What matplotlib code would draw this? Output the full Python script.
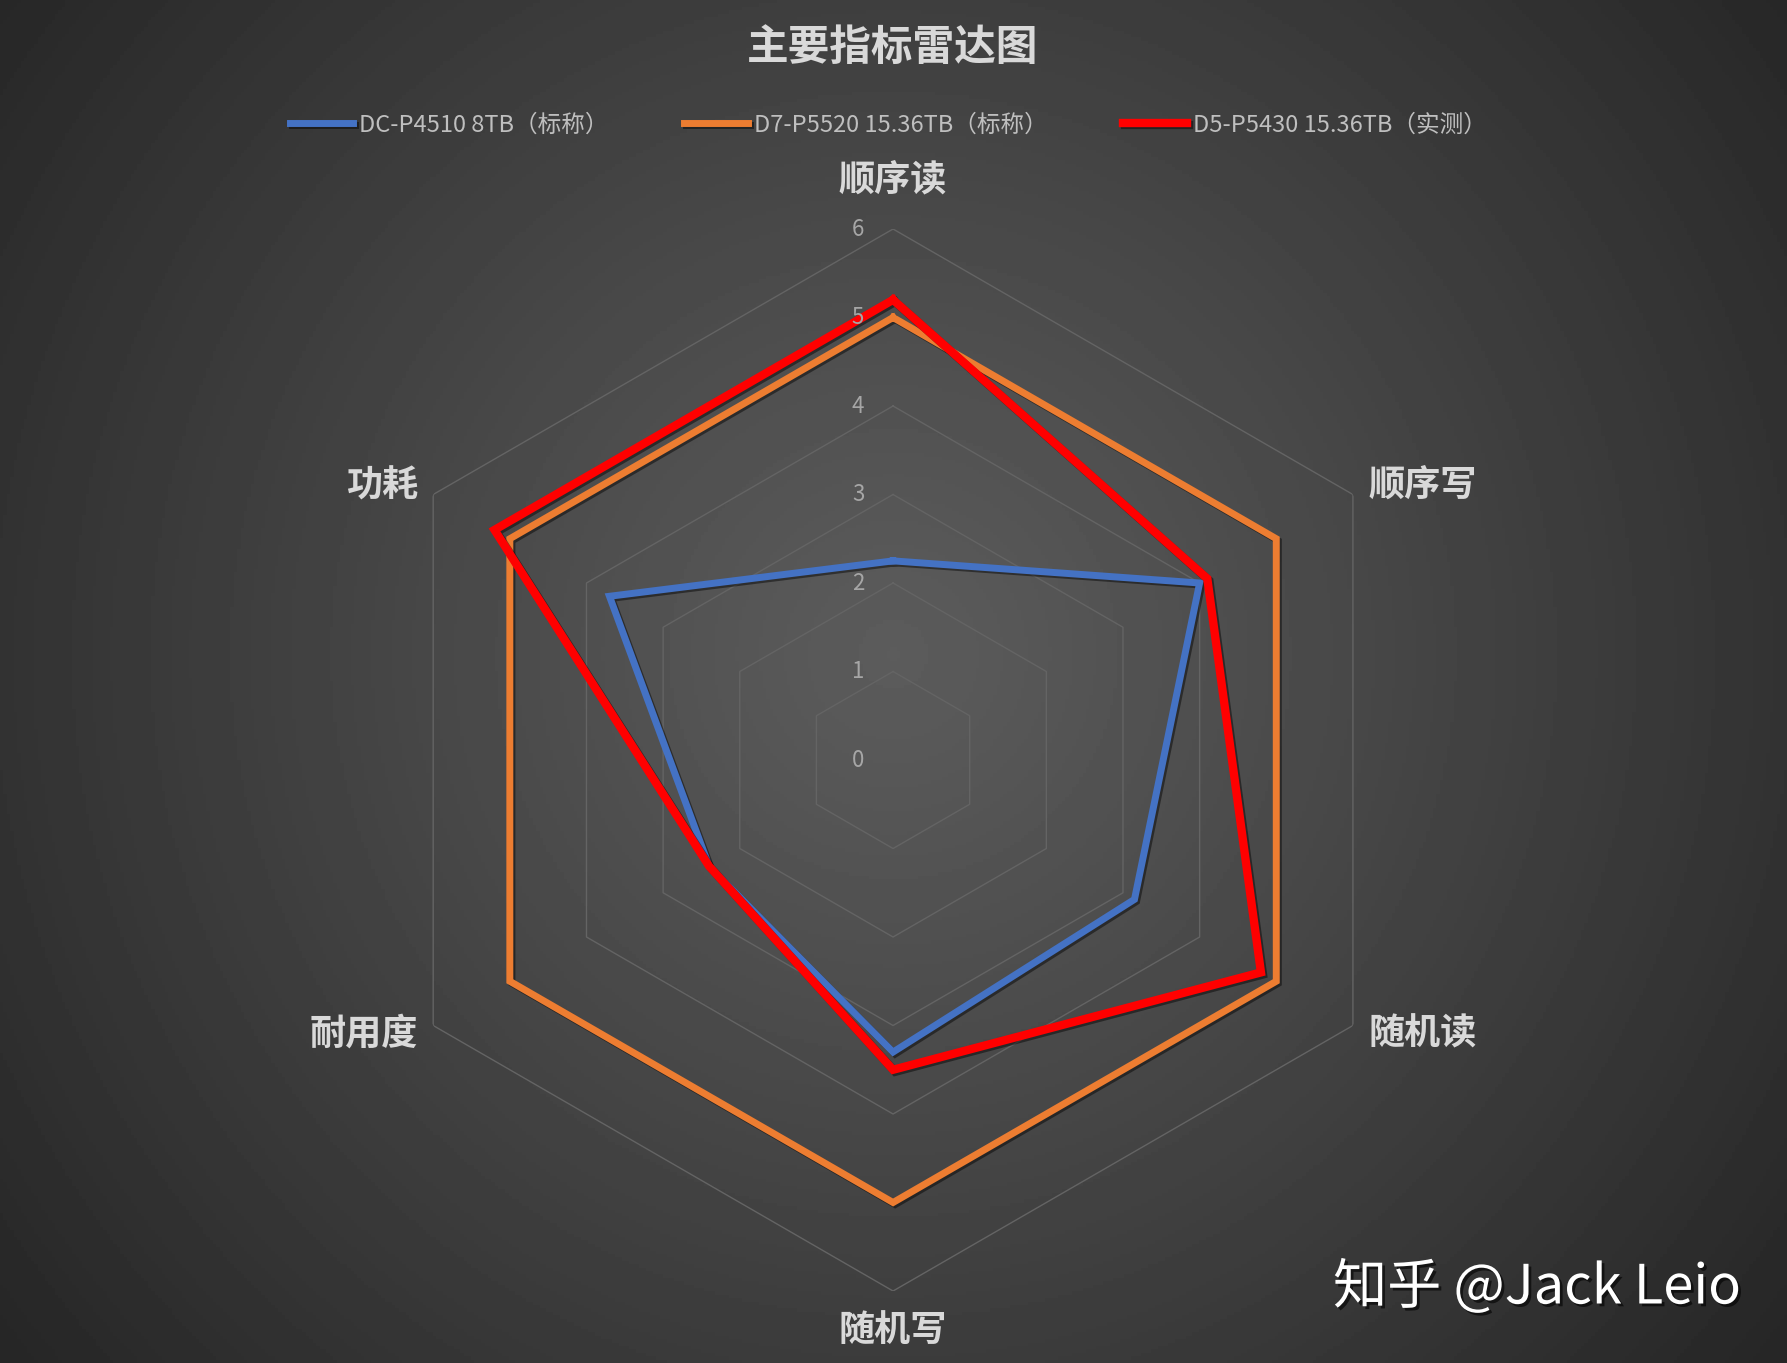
import numpy as np
import matplotlib.pyplot as plt
import matplotlib.patheffects as pe
from matplotlib.transforms import offset_copy

plt.rcParams['font.family'] = ['Noto Sans CJK SC', 'DejaVu Sans']

# 数据
categories = ['顺序读', '顺序写', '随机读', '随机写', '耐用度', '功耗']
series_names = ['DC-P4510 8TB（标称）', 'D7-P5520 15.36TB（标称）', 'D5-P5430 15.36TB（实测）']
p4510 = [2.25, 4.0, 3.15, 3.3, 2.4, 3.7]
p5520 = [5.0, 5.0, 5.0, 5.0, 5.0, 5.0]
p5430 = [5.2, 4.1, 4.8, 3.5, 2.4, 5.2]
r_ticks = [0, 1, 2, 3, 4, 5, 6]

colors = ['#4472C4', '#ED7D31', '#FF0000']
widths = [5, 5, 6]

fig = plt.figure(figsize=(17.87, 13.63), dpi=100)

# 背景径向渐变
bg = fig.add_axes([0, 0, 1, 1], zorder=-10)
yy, xx = np.mgrid[0:1:400j, 0:1:520j]
d = np.sqrt(((xx - 0.5) * 1.787) ** 2 + ((yy - 0.48) * 1.363) ** 2) / 1.124
shade = 0.36 - (0.36 - 0.15) * np.clip(d, 0, 1) ** 1.1
bg.imshow(shade, cmap='gray', vmin=0, vmax=1, extent=[0, 1, 0, 1], aspect='auto')
bg.set_axis_off()

# 雷达图
ax = fig.add_axes([0.2026, 0.0528, 0.5943, 0.7792], projection='polar')
ax.set_facecolor('none')
ax.set_theta_zero_location('N')
ax.set_theta_direction(-1)
ax.set_ylim(0, 6)
ax.set_axis_off()

angles = np.linspace(0, 2 * np.pi, len(categories), endpoint=False)
closed = np.append(angles, angles[0])

# 网格六边形
for lev in r_ticks[1:]:
    ax.plot(closed, [lev] * len(closed), color='#646464', lw=1.0, zorder=1)

# 数据线
for vals, c, w, name in zip([p4510, p5520, p5430], colors, widths, series_names):
    ax.plot(closed, vals + [vals[0]], color=c, lw=w, label=name,
            solid_joinstyle='miter', clip_on=False, zorder=3,
            path_effects=[pe.SimpleLineShadow(offset=(1.5, -1.5), shadow_color='black', alpha=0.45),
                          pe.Normal()])

# 刻度标签
trans = offset_copy(ax.transData, fig=fig, x=-35, y=0, units='dots')
for r in r_ticks:
    ax.text(0, r, str(r), transform=trans, ha='center', va='center',
            fontsize=16, color='#a6a6a6', zorder=4)

# 类别标签
for ang, cat in zip(angles, categories):
    deg = np.degrees(ang)
    if deg == 0:
        ax.text(ang, 6.55, cat, ha='center', va='center', fontsize=26,
                weight='bold', color='#d9d9d9')
    elif deg == 180:
        ax.text(ang, 6.45, cat, ha='center', va='center', fontsize=26,
                weight='bold', color='#d9d9d9')
    else:
        ha = 'left' if deg < 180 else 'right'
        ax.text(ang, 6.2, cat, ha=ha, va='center', fontsize=26,
                weight='bold', color='#d9d9d9')

# 标题和图例
fig.text(0.4994, 1 - 48 / 1363, '主要指标雷达图', ha='center', va='center',
         fontsize=30, weight='bold', color='#d9d9d9')
fig.legend(loc='center', bbox_to_anchor=(0.497, 1 - 125 / 1363), ncol=3,
           frameon=False, fontsize=17, handlelength=2.7, handletextpad=0.25,
           columnspacing=3.2, labelcolor='#bfbfbf')

# 水印
fig.text(1333 / 1787, 1 - 1288 / 1363, '知乎 @Jack Leio', ha='left', va='center',
         fontsize=39, color='white',
         path_effects=[pe.SimplePatchShadow(offset=(2, -2), shadow_rgbFace='black', alpha=0.6),
                       pe.Normal()])

fig.savefig('out.png', dpi=100)
